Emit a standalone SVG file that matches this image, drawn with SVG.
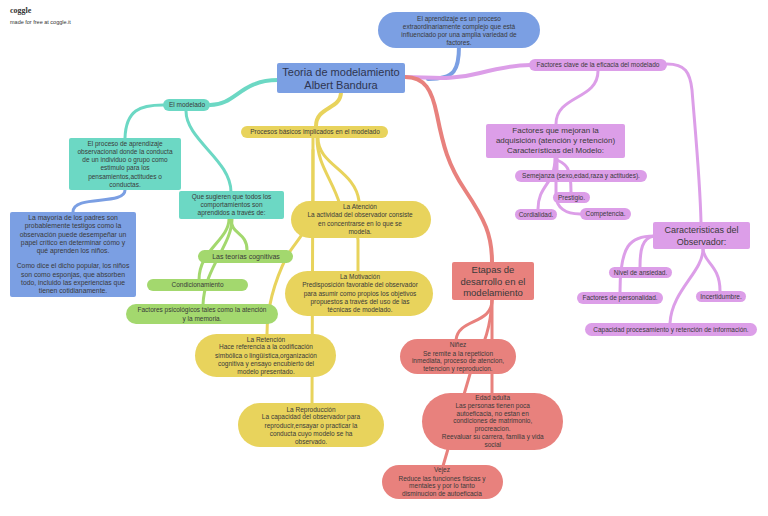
<svg xmlns="http://www.w3.org/2000/svg" width="768" height="516" viewBox="0 0 768 516">
<style>
text{font-family:"Liberation Sans",Arial,sans-serif;fill:#3a3a3a;text-anchor:middle}
.s{font-size:6.5px}
.m{font-size:6.8px}
.c{fill:none;stroke-linecap:round}
.teal{fill:#6cd8c4}.tealS{stroke:#6cd8c4}
.blue{fill:#7b9fe3}.blueS{stroke:#7b9fe3}
.yel{fill:#e8d35c}.yelS{stroke:#e8d35c}
.grn{fill:#a3d86e}.grnS{stroke:#a3d86e}
.pnk{fill:#dc9ee8}.pnkS{stroke:#dc9ee8}
.red{fill:#e8817d}.redS{stroke:#e8817d}
.w4{stroke-width:4}.w3{stroke-width:3}
</style>
<rect width="768" height="516" fill="#ffffff"/>
<g id="logo">
<text x="10" y="13" style="font-family:'Liberation Serif',serif;font-size:8px;font-weight:bold;text-anchor:start;fill:#333">coggle</text>
<text x="10" y="24" style="font-size:5.5px;text-anchor:start;fill:#333">made for free at coggle.it</text>
</g>
<g id="connectors">
<path class="c blueS w4" d="M459,46 C459,70 455,79 428,79"/>
<path class="c pnkS w4" d="M405,77 C430,77 450,81 480,73 C500,68 515,65 530,65"/>
<path class="c redS w4" d="M405,77 C425,77 432,90 437,115 C443,145 448,165 465,190 C485,220 492,235 492,262"/>
<path class="c tealS w4" d="M210,105 C236,105 240,80 278,80"/>
<path class="c yelS w4" d="M341,92 C341,110 316,106 316,126"/>
<path class="c tealS w3" d="M163,105 C140,105 126,110 125,138"/>
<path class="c tealS w3" d="M186,111 C186,140 231,160 231,192"/>
<path class="c blueS w3" d="M125,190 C125,206 73,194 73,212"/>
<path class="c grnS w3" d="M231,219 C231,235 247,232 247,250"/>
<path class="c grnS w3" d="M229,219 C229,240 199,250 199,280"/>
<path class="c grnS w3" d="M232,219 C232,245 204,268 203,305"/>
<path class="c yelS w3" d="M318,138 C318,165 355,170 359,201"/>
<path class="c yelS w3" d="M317,138 C317,165 333,180 340,205 C348,225 358,230 358,240 L358,272"/>
<path class="c yelS w3" d="M313,138 L312,404"/>
<path class="c yelS w3" d="M313,150 L313,200 C313,228 296,240 287,256 C276,278 267,305 267,334"/>
<path class="c pnkS w3" d="M598,71 C598,100 556,95 556,124"/>
<path class="c pnkS w3" d="M667,64 C685,64 690,72 692,90 C696,140 700,180 701,222"/>
<path class="c pnkS w3" d="M557,158 L557,170"/>
<path class="c pnkS w3" d="M557,160 C565,164 571,165 571,192"/>
<path class="c pnkS w3" d="M555,158 C555,185 538,185 538,209"/>
<path class="c pnkS w3" d="M556,160 L556,195 C556,208 566,214 580,214"/>
<path class="c pnkS w3" d="M654,236 C630,236 620,245 620,292"/>
<path class="c pnkS w3" d="M654,236 C642,238 640,250 640,267"/>
<path class="c pnkS w3" d="M703,249 C703,262 720,265 720,291"/>
<path class="c pnkS w3" d="M703,249 C703,272 672,290 670,323"/>
<path class="c redS w3" d="M492,300 C492,325 458,318 456,340"/>
<path class="c redS w3" d="M492,300 L492,394"/>
<path class="c redS w3" d="M492,300 C490,340 478,352 470,374 L443,466"/>
</g>
<g id="n-intro">
<rect class="blue" x="378" y="12" width="162" height="36" rx="18"/>
<text class="s"><tspan x="459" y="21.3">El aprendizaje es un proceso</tspan><tspan x="459" y="29.3">extraordinariamente complejo que está</tspan><tspan x="459" y="37">influenciado por una amplia variedad de</tspan><tspan x="459" y="44.5">factores.</tspan></text>
</g>
<g id="n-main">
<rect class="blue" x="277" y="63" width="128" height="30" rx="2"/>
<text style="font-size:11px;fill:#2e3550"><tspan x="341" y="75.5">Teoria de modelamiento</tspan><tspan x="341" y="89">Albert Bandura</tspan></text>
</g>
<g id="n-modelado">
<rect class="teal" x="163" y="99" width="47" height="12" rx="6"/>
<text class="s" x="187" y="107.3">El modelado</text>
</g>
<g id="n-proceso">
<rect class="teal" x="69" y="138" width="112" height="52" rx="2"/>
<text class="s"><tspan x="125" y="145.8">El proceso de aprendizaje</tspan><tspan x="125" y="154">observacional donde la conducta</tspan><tspan x="125" y="162.2">de un individuo o grupo como</tspan><tspan x="125" y="170.4">estimulo para los</tspan><tspan x="125" y="178.6">pensamientos,actitudes o</tspan><tspan x="125" y="186.8">conductas.</tspan></text>
</g>
<g id="n-sugieren">
<rect class="teal" x="179" y="191" width="105" height="28" rx="2"/>
<text class="s"><tspan x="231.5" y="199.3">Que sugieren que todos los</tspan><tspan x="231.5" y="207.3">comportamientos son</tspan><tspan x="231.5" y="215.3">aprendidos a través de:</tspan></text>
</g>
<g id="n-padres">
<rect class="blue" x="10" y="212" width="126" height="85" rx="2"/>
<text class="m"><tspan x="73" y="220.1">La mayoría de los padres son</tspan><tspan x="73" y="228.4">probablemente testigos como la</tspan><tspan x="73" y="236.7">observación puede desempeñar un</tspan><tspan x="73" y="245.3">papel crítico en determinar cómo y</tspan><tspan x="73" y="253.4">qué aprenden los niños.</tspan><tspan x="73" y="268.1">Como dice el dicho popular, los niños</tspan><tspan x="73" y="276.7">son como esponjas, que absorben</tspan><tspan x="73" y="285.1">todo, incluido las experiencias que</tspan><tspan x="73" y="293.4">tienen cotidianamente.</tspan></text>
</g>
<g id="n-cognitivas">
<rect class="grn" x="198" y="250" width="95" height="13" rx="6.5"/>
<text x="246" y="259" style="font-size:7px">Las teorías cognitivas</text>
</g>
<g id="n-condicionamiento">
<rect class="grn" x="147" y="279" width="101" height="12" rx="6"/>
<text class="s" x="197.5" y="287.3">Condicionamiento</text>
</g>
<g id="n-psicologicos">
<rect class="grn" x="126" y="304" width="152" height="20" rx="10"/>
<text class="s"><tspan x="202" y="312.3">Factores psicológicos tales como la atención</tspan><tspan x="202" y="320.6">y la memoria.</tspan></text>
</g>
<g id="n-procesos">
<rect class="yel" x="241" y="126" width="147" height="12" rx="6"/>
<text class="s" x="315" y="134.2">Procesos básicos implicados en el modelado</text>
</g>
<g id="n-atencion">
<rect class="yel" x="291" y="201" width="140" height="37" rx="18.5"/>
<text class="s"><tspan x="360" y="209">La Atención</tspan><tspan x="360" y="217.3">La actividad del observador consiste</tspan><tspan x="360" y="225.6">en concentrarse en lo que se</tspan><tspan x="360" y="234">modela.</tspan></text>
</g>
<g id="n-motivacion">
<rect class="yel" x="285" y="271" width="148" height="45" rx="22.5"/>
<text class="s"><tspan x="360" y="279">La Motivación</tspan><tspan x="360" y="287.3">Predisposición favorable del observador</tspan><tspan x="360" y="295.6">para asumir como propios los objetivos</tspan><tspan x="360" y="304">propuestos a través del uso de las</tspan><tspan x="360" y="312.3">técnicas de modelado.</tspan></text>
</g>
<g id="n-retencion">
<rect class="yel" x="195" y="334" width="141" height="43" rx="21.5"/>
<text class="s"><tspan x="266" y="341.6">La Retención</tspan><tspan x="266" y="349.4">Hace referencia a la codificación</tspan><tspan x="266" y="357.6">simbólica o lingüística,organización</tspan><tspan x="266" y="365.8">cognitiva y ensayo encubierto del</tspan><tspan x="266" y="374">modelo presentado.</tspan></text>
</g>
<g id="n-reproduccion">
<rect class="yel" x="238" y="403" width="146" height="44" rx="22"/>
<text class="s"><tspan x="311" y="411.6">La Reproducción</tspan><tspan x="311" y="419.4">La capacidad del observador para</tspan><tspan x="311" y="427.6">reproducir,ensayar o practicar la</tspan><tspan x="311" y="435.8">conducta cuyo modelo se ha</tspan><tspan x="311" y="444">observado.</tspan></text>
</g>
<g id="n-factoresclave">
<rect class="pnk" x="529" y="59" width="138" height="12" rx="6"/>
<text class="s" x="598" y="67.3">Factores clave de la eficacia del modelado</text>
</g>
<g id="n-mejoran">
<rect class="pnk" x="486" y="124" width="139" height="34" rx="2"/>
<text style="font-size:8px"><tspan x="555.5" y="133">Factores que mejoran la</tspan><tspan x="555.5" y="143">adquisición (atención y retención)</tspan><tspan x="555.5" y="153">Características del Modelo:</tspan></text>
</g>
<g id="n-semejanza">
<rect class="pnk" x="515" y="170" width="132" height="12" rx="6"/>
<text class="s" x="581" y="178.3">Semejanza (sexo,edad,raza y actitudes).</text>
</g>
<g id="n-prestigio">
<rect class="pnk" x="553" y="192" width="37" height="11" rx="5.5"/>
<text class="s" x="571.5" y="199.8">Prestigio.</text>
</g>
<g id="n-cordialidad">
<rect class="pnk" x="515" y="209" width="42" height="11" rx="5.5"/>
<text class="s" x="536" y="216.8">Cordialidad.</text>
</g>
<g id="n-competencia">
<rect class="pnk" x="580" y="208" width="51" height="12" rx="6"/>
<text class="s" x="605.5" y="216.3">Competencia.</text>
</g>
<g id="n-observador">
<rect class="pnk" x="653" y="222" width="97" height="27" rx="2"/>
<text style="font-size:9px"><tspan x="701.5" y="233.2">Caracteristicas del</tspan><tspan x="701.5" y="245">Observador:</tspan></text>
</g>
<g id="n-ansiedad">
<rect class="pnk" x="609" y="267" width="63" height="11" rx="5.5"/>
<text class="s" x="640.5" y="274.8">Nivel de ansiedad.</text>
</g>
<g id="n-personalidad">
<rect class="pnk" x="577" y="292" width="86" height="12" rx="6"/>
<text class="s" x="620" y="300.3">Factores de personalidad.</text>
</g>
<g id="n-incertidumbre">
<rect class="pnk" x="696" y="291" width="50" height="11" rx="5.5"/>
<text class="s" x="721" y="298.8">Incertidumbre.</text>
</g>
<g id="n-capacidad">
<rect class="pnk" x="585" y="323" width="172" height="13" rx="6.5"/>
<text class="s" x="671" y="331.8">Capacidad procesamiento y retención de información.</text>
</g>
<g id="n-etapas">
<rect class="red" x="452" y="262" width="82" height="38" rx="2"/>
<text style="font-size:9.5px"><tspan x="493" y="273.4">Etapas de</tspan><tspan x="493" y="285">desarrollo en el</tspan><tspan x="493" y="296">modelamiento</tspan></text>
</g>
<g id="n-ninez">
<rect class="red" x="400" y="339" width="116" height="35" rx="17.5"/>
<text class="s"><tspan x="458" y="347.3">Niñez</tspan><tspan x="458" y="355.6">Se remite a la repeticion</tspan><tspan x="458" y="363.2">inmediata, proceso de atencion,</tspan><tspan x="458" y="370.8">tetencion y reproducion.</tspan></text>
</g>
<g id="n-adulta">
<rect class="red" x="422" y="393" width="141" height="57" rx="28.5"/>
<text class="s"><tspan x="492.7" y="400">Edad adulta</tspan><tspan x="492.7" y="407.8">Las personas tienen poca</tspan><tspan x="492.7" y="415.6">autoeficacia, no estan en</tspan><tspan x="492.7" y="423.4">condiciones de matrimonio,</tspan><tspan x="492.7" y="431.2">procreacion.</tspan><tspan x="492.7" y="439">Reevaluar su carrera, familia y vida</tspan><tspan x="492.7" y="446.8">social</tspan></text>
</g>
<g id="n-vejez">
<rect class="red" x="382" y="465" width="121" height="34" rx="17"/>
<text class="s"><tspan x="442" y="472.3">Vejez</tspan><tspan x="442" y="480.5">Reduce las funciones fisicas y</tspan><tspan x="442" y="488.4">mentales y por lo tanto</tspan><tspan x="442" y="496">disminucion de autoeficacia</tspan></text>
</g>
</svg>
